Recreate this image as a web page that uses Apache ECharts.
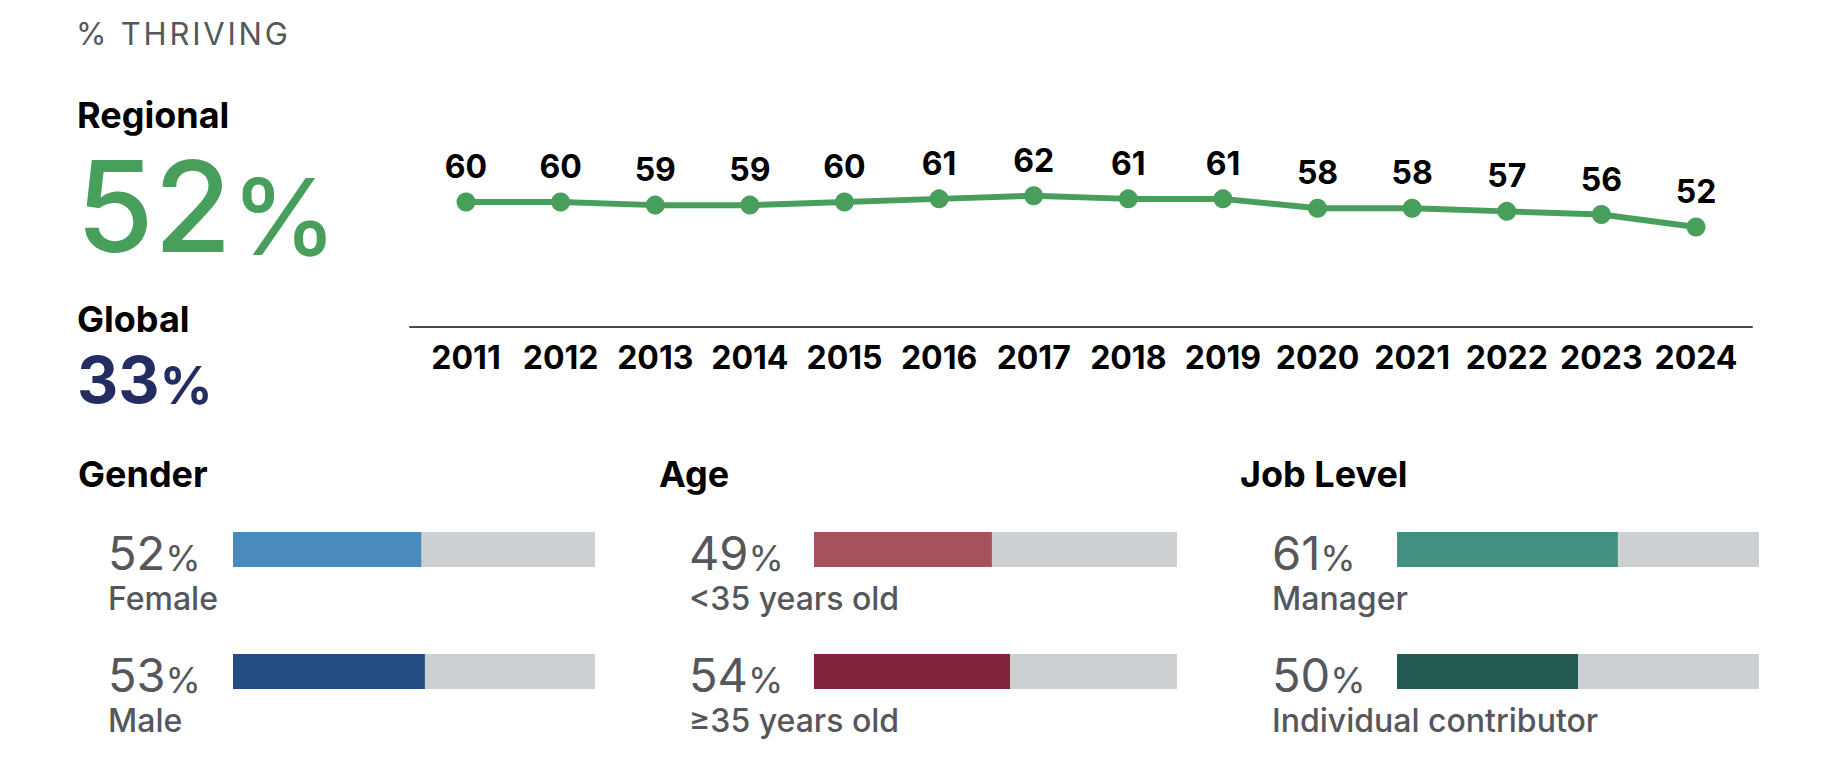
<!DOCTYPE html>
<html>
<head>
<meta charset="utf-8">
<script src="https://cdn.jsdelivr.net/npm/echarts@6/dist/echarts.min.js"></script>
<style>
  html, body { margin: 0; padding: 0; background: #ffffff; }
  #chart { width: 1840px; height: 775px; }
</style>
</head>
<body>
<div id="chart"></div>
<script>
// ---- data ----
const years = ['2011','2012','2013','2014','2015','2016','2017','2018','2019','2020','2021','2022','2023','2024'];
const thriving = [60, 60, 59, 59, 60, 61, 62, 61, 61, 58, 58, 57, 56, 52];
const regionalPct = 52;
const globalPct = 33;
const headerText = '% THRIVING';
const groupTitles = ['Gender', 'Age', 'Job Level'];
const genderLabels = ['Female', 'Male'];
const genderValues = [52, 53];
const ageLabels = ['<35 years old', '≥35 years old'];
const ageValues = [49, 54];
const jobLabels = ['Manager', 'Individual contributor'];
const jobValues = [61, 50];

// ---- styling ----
const FONT = 'Inter, "Noto Sans", "Liberation Sans", sans-serif';
const GREEN = '#479f5b';
const NAVY = '#232d62';
const GRAY_TEXT = '#54575b';
const TRACK = '#cdd0d3';
const groups = [
  { labels: genderLabels, values: genderValues, colors: ['#4a8bbd', '#244c82'], left: 233, width: 362, titleX: 78 },
  { labels: ageLabels, values: ageValues, colors: ['#a5535b', '#83233a'], left: 814, width: 363, titleX: 659 },
  { labels: jobLabels, values: jobValues, colors: ['#419080', '#245a52'], left: 1397, width: 362, titleX: 1240 }
];

const chart = echarts.init(document.getElementById('chart'), null, { renderer: 'svg' });

const grids = [
  { left: 418.7, right: 96.7, top: 77, bottom: 448 },   // line chart
  { left: 410, right: 88, top: 77, bottom: 448 }        // baseline axis
];
const xAxes = [
  {
    type: 'category', gridIndex: 0, data: years, boundaryGap: true,
    axisLine: { show: false }, axisTick: { show: false },
    axisLabel: { interval: 0, color: '#000', fontFamily: FONT, fontWeight: 'bold', fontSize: 32, lineHeight: 30, margin: 15 }
  },
  {
    type: 'value', gridIndex: 1, min: 0, max: 1,
    axisLine: { show: true, onZero: false, lineStyle: { color: '#4a4a4a', width: 2 } },
    axisTick: { show: false }, axisLabel: { show: false }, splitLine: { show: false }
  }
];
const yAxes = [
  { type: 'value', gridIndex: 0, min: 20, max: 100, show: false, splitLine: { show: false } },
  { type: 'value', gridIndex: 1, min: 0, max: 1, show: false, splitLine: { show: false } }
];
const series = [
  {
    type: 'line', xAxisIndex: 0, yAxisIndex: 0, data: thriving,
    lineStyle: { color: GREEN, width: 6 },
    itemStyle: { color: GREEN },
    symbol: 'circle', symbolSize: 19,
    label: {
      show: true, position: 'top', distance: 11,
      color: '#000', fontFamily: FONT, fontWeight: 'bold', fontSize: 32, lineHeight: 30
    },
    silent: true, animation: false
  }
];

groups.forEach((g, gi) => {
  const gridIndex = grids.length;
  grids.push({ left: g.left, width: g.width, top: 488.5, height: 244 });
  xAxes.push({ type: 'value', gridIndex, min: 0, max: 100, show: false, splitLine: { show: false } });
  yAxes.push({
    type: 'category', gridIndex, data: g.labels, inverse: true,
    axisLine: { show: false }, axisTick: { show: false },
    axisLabel: {
      align: 'left', margin: 125,
      formatter: (val, idx) => '{b| }\n{v|' + g.values[idx] + '}{p|%}\n{n|' + val + '}',
      rich: {
        b: { fontSize: 10, lineHeight: 40 },
        v: { fontFamily: FONT, fontSize: 47, lineHeight: 57, color: GRAY_TEXT, verticalAlign: 'bottom' },
        p: { fontFamily: FONT, fontSize: 36, lineHeight: 57, color: GRAY_TEXT, verticalAlign: 'bottom' },
        n: { fontFamily: FONT, fontSize: 32, fontWeight: 500, lineHeight: 45, color: GRAY_TEXT }
      }
    }
  });
  series.push({
    type: 'bar', xAxisIndex: gridIndex, yAxisIndex: gridIndex,
    data: g.values.map((v, i) => ({ value: v, itemStyle: { color: g.colors[i] } })),
    barWidth: 35,
    showBackground: true, backgroundStyle: { color: TRACK },
    silent: true, animation: false
  });
});

const graphic = [
  { type: 'text', x: 76, y: 33.5, style: { text: headerText, fontFamily: FONT, fontSize: 31, fill: GRAY_TEXT, verticalAlign: 'middle', align: 'left' } },
  { type: 'text', x: 77, y: 114.5, style: { text: 'Regional', fontFamily: FONT, fontSize: 36, fontWeight: 'bold', fill: '#000', verticalAlign: 'middle', align: 'left' } },
  { type: 'text', x: 76, y: 204, style: {
      text: '{v|' + regionalPct + '}{p|%}', verticalAlign: 'middle', align: 'left',
      rich: {
        v: { fontFamily: FONT, fontSize: 126, fontWeight: 500, fill: GREEN, lineHeight: 130, verticalAlign: 'bottom' },
        p: { fontFamily: FONT, fontSize: 106, fontWeight: 500, fill: GREEN, lineHeight: 130, verticalAlign: 'bottom' }
      } } },
  { type: 'text', x: 77, y: 318.5, style: { text: 'Global', fontFamily: FONT, fontSize: 36, fontWeight: 'bold', fill: '#000', verticalAlign: 'middle', align: 'left' } },
  { type: 'text', x: 77, y: 378.5, style: {
      text: '{v|' + globalPct + '}{p|%}', verticalAlign: 'middle', align: 'left',
      rich: {
        v: { fontFamily: FONT, fontSize: 64, fontWeight: 'bold', fill: NAVY, lineHeight: 66, verticalAlign: 'bottom' },
        p: { fontFamily: FONT, fontSize: 52, fontWeight: 'bold', fill: NAVY, lineHeight: 66, verticalAlign: 'bottom' }
      } } }
];
groups.forEach((g, gi) => {
  graphic.push({ type: 'text', x: g.titleX, y: 474, style: { text: groupTitles[gi], fontFamily: FONT, fontSize: 36, fontWeight: 'bold', fill: '#000', verticalAlign: 'middle', align: 'left' } });
});

chart.setOption({
  backgroundColor: '#ffffff',
  animation: false,
  grid: grids,
  xAxis: xAxes,
  yAxis: yAxes,
  series: series,
  graphic: graphic
});

// letter-spacing for the header text (SVG renderer)
function spaceHeader() {
  document.querySelectorAll('#chart text').forEach(t => {
    if (t.textContent === headerText) {
      t.setAttribute('letter-spacing', '2.8');
    }
  });
}
spaceHeader();
chart.on('finished', spaceHeader);
</script>
</body>
</html>
